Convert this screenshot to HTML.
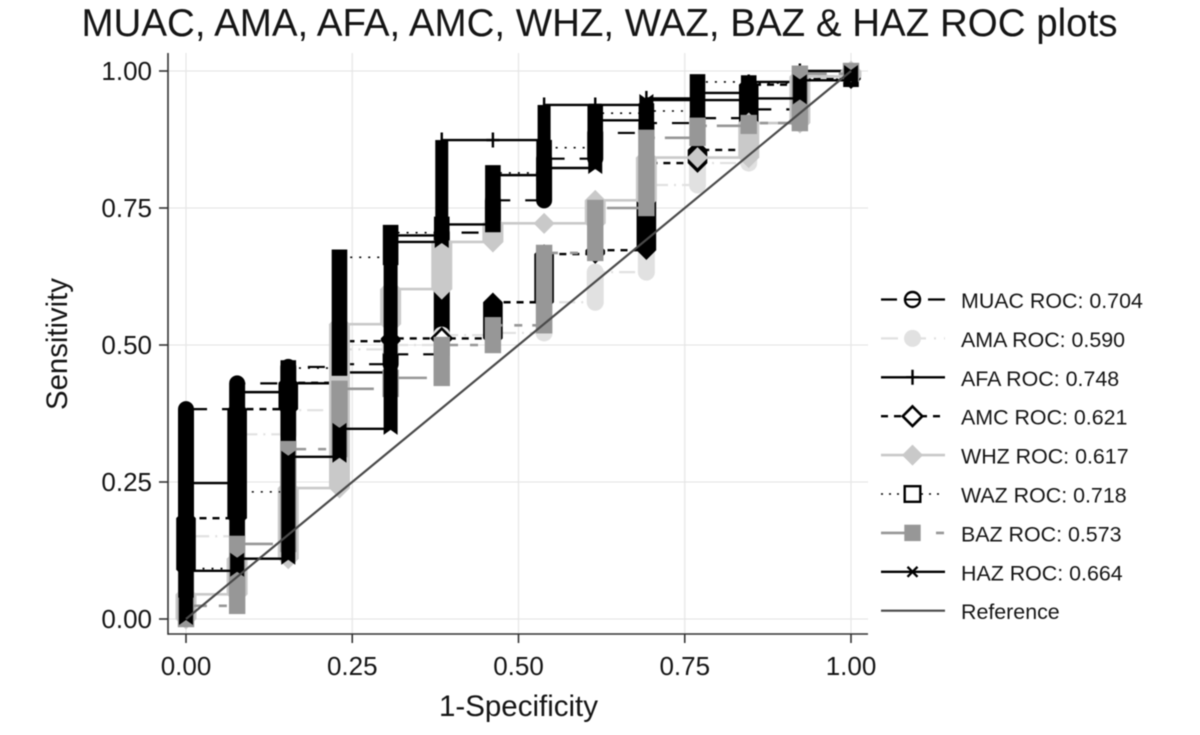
<!DOCTYPE html>
<html>
<head>
<meta charset="utf-8">
<title>ROC plots</title>
<style>
html,body{margin:0;padding:0;background:#fff;}
svg{display:block;filter:blur(0.55px);}
text{font-family:"Liberation Sans",Arial,sans-serif;fill:#151515;}
</style>
</head>
<body>
<svg id="chart" xmlns="http://www.w3.org/2000/svg" width="1200" height="735" viewBox="0 0 1200 735">
  <text x="599.5" y="36" font-size="38.5" text-anchor="middle">MUAC, AMA, AFA, AMC, WHZ, WAZ, BAZ &amp; HAZ ROC plots</text>
  <text transform="translate(67,344) rotate(-90)" font-size="29.3" text-anchor="middle">Sensitivity</text>
  <text x="518.5" y="716" font-size="29.5" text-anchor="middle">1-Specificity</text>
  <g id="grid"></g>
  <g id="marks"></g>
  <g id="axes"></g>
  <g id="legend"></g>
</svg>
<script>
// Data
const fprLevels = [0, 0.0769, 0.1538, 0.2308, 0.3077, 0.3846, 0.4615, 0.5385, 0.6154, 0.6923, 0.7692, 0.8462, 0.9231, 1];
const seriesNames = ['MUAC', 'AMA', 'AFA', 'AMC', 'WHZ', 'WAZ', 'BAZ', 'HAZ'];
const aucLabels = ['0.704', '0.590', '0.748', '0.621', '0.617', '0.718', '0.573', '0.664'];
const startSens = [0.04, 0, 0.04, 0.09, 0, 0.04, 0, 0];
const muacSens = [0.383, 0.43, 0.46, 0.465, 0.483, 0.705, 0.764, 0.84, 0.887, 0.905, 0.914, 0.93, 0.99, 1];
const amaSens = [0.151, 0.337, 0.381, 0.492, 0.50, 0.518, 0.522, 0.578, 0.633, 0.792, 0.832, 0.905, 0.985, 1];
const afaSens = [0.248, 0.414, 0.43, 0.45, 0.70, 0.874, 0.874, 0.938, 0.938, 0.95, 0.96, 0.98, 1, 1];
const amcSens = [0.184, 0.383, 0.431, 0.507, 0.512, 0.512, 0.578, 0.666, 0.673, 0.832, 0.856, 0.975, 0.985, 1];
const whzSens = [0.045, 0.11, 0.239, 0.538, 0.602, 0.688, 0.722, 0.722, 0.764, 0.842, 0.842, 0.905, 0.99, 1];
const wazSens = [0.092, 0.232, 0.458, 0.66, 0.705, 0.72, 0.814, 0.86, 0.923, 0.927, 0.98, 0.978, 0.985, 1];
const bazSens = [0.024, 0.137, 0.31, 0.42, 0.44, 0.50, 0.536, 0.668, 0.75, 0.878, 0.90, 0.905, 0.995, 1];
const hazSens = [0.088, 0.11, 0.296, 0.347, 0.688, 0.72, 0.81, 0.823, 0.91, 0.947, 0.947, 0.95, 0.983, 1];
const allSens = [muacSens, amaSens, afaSens, amcSens, whzSens, wazSens, bazSens, hazSens];
const tickValues = [0, 0.25, 0.5, 0.75, 1];
const tickLabels = ['0.00', '0.25', '0.50', '0.75', '1.00'];

// Styles
const looks = [
  {color:'#000', dash:'17 15', legendDash:'16 31 18', sw:2.2, kind:'circle', size:7.5, hollow:true},
  {color:'#e1e1e1', dash:'16 6 2 6', legendDash:'17 22 6 8 2 8 2 8', sw:2.2, kind:'circle', size:8.5},
  {color:'#000', dash:'', legendDash:'', sw:2.4, kind:'plus', size:6.5},
  {color:'#000', dash:'7 6', legendDash:'7 6', sw:2.4, kind:'diamond', size:9.8, hollow:true},
  {color:'#c9c9c9', dash:'', legendDash:'', sw:2.6, kind:'diamond', size:10.5},
  {color:'#000', dash:'2 7', legendDash:'2 6', sw:1.6, kind:'square', size:7.8, hollow:true},
  {color:'#979797', dash:'34 12 8 10', legendDash:'34 21 8 30', sw:2.6, kind:'square', size:8.2},
  {color:'#000', dash:'', legendDash:'', sw:2.4, kind:'cross', size:7}
];

const NS = 'http://www.w3.org/2000/svg';
const X0 = 186, X1 = 851, Y0 = 619, Y1 = 71;
const PLOT_L = 168, PLOT_R = 868, PLOT_T = 53, PLOT_B = 634;
const xScale = v => X0 + (X1 - X0) * v;
const yScale = v => Y0 + (Y1 - Y0) * v;

function mk(parent, tag, attrs, name, interact) {
  const el = document.createElementNS(NS, tag);
  for (const k in attrs) el.setAttribute(k, attrs[k]);
  
  
  parent.appendChild(el);
  return el;
}

// Grid and axes
const gridG = document.getElementById('grid');
const axesG = document.getElementById('axes');
tickValues.forEach((v, i) => {
  mk(gridG, 'line', {x1: xScale(v), x2: xScale(v), y1: PLOT_T, y2: PLOT_B, stroke: '#e6e6e6', 'stroke-width': 1.2}, 'x-gridline');
  mk(gridG, 'line', {x1: PLOT_L, x2: PLOT_R, y1: yScale(v), y2: yScale(v), stroke: '#e6e6e6', 'stroke-width': 1.2}, 'y-gridline');
  mk(axesG, 'line', {x1: xScale(v), x2: xScale(v), y1: PLOT_B, y2: PLOT_B + 9, stroke: '#333', 'stroke-width': 1.6}, 'x-tick');
  mk(axesG, 'line', {x1: PLOT_L - 9, x2: PLOT_L, y1: yScale(v), y2: yScale(v), stroke: '#333', 'stroke-width': 1.6}, 'y-tick');
  const xt = mk(axesG, 'text', {x: xScale(v), y: 675, 'font-size': 26, 'text-anchor': 'middle'}, 'x-tick-label');
  xt.textContent = tickLabels[i];
  const yt = mk(axesG, 'text', {x: 152, y: yScale(v) + 9, 'font-size': 26, 'text-anchor': 'end'}, 'y-tick-label');
  yt.textContent = tickLabels[i];
});
mk(axesG, 'line', {x1: PLOT_L, x2: PLOT_L, y1: PLOT_T, y2: PLOT_B + 0.8, stroke: '#333', 'stroke-width': 1.6}, 'y-axis-line');
mk(axesG, 'line', {x1: PLOT_L, x2: PLOT_R, y1: PLOT_B, y2: PLOT_B, stroke: '#333', 'stroke-width': 1.6}, 'x-axis-line');

// A single marker (used where a series does not rise, and in the legend)
function singleMarker(g, look, x, y, name) {
  const s = look.size, c = look.color;
  const hollowFill = look.hollow ? '#fff' : c;
  if (look.kind === 'circle') {
    mk(g, 'circle', {cx: x, cy: y, r: s, fill: hollowFill, stroke: c, 'stroke-width': look.hollow ? 2.4 : 0}, name);
    if (look.hollow) mk(g, 'line', {x1: x - s, x2: x + s, y1: y, y2: y, stroke: c, 'stroke-width': 2}, name + '-bar');
  } else if (look.kind === 'square') {
    mk(g, 'rect', {x: x - s, y: y - s, width: 2 * s, height: 2 * s, fill: hollowFill, stroke: c, 'stroke-width': look.hollow ? 2.4 : 0}, name);
  } else if (look.kind === 'diamond') {
    mk(g, 'polygon', {points: `${x},${y - s} ${x + s},${y} ${x},${y + s} ${x - s},${y}`, fill: hollowFill, stroke: c, 'stroke-width': look.hollow ? 2.6 : 0}, name);
  } else if (look.kind === 'plus') {
    mk(g, 'path', {d: `M${x - s} ${y}H${x + s}M${x} ${y - s - 1}V${y + s + 1}`, fill: 'none', stroke: c, 'stroke-width': 2.4}, name);
  } else {
    mk(g, 'path', {d: `M${x - s + 2} ${y - s + 2}L${x + s - 2} ${y + s - 2}M${x + s - 2} ${y - s + 2}L${x - s + 2} ${y + s - 2}`, fill: 'none', stroke: c, 'stroke-width': 2.4}, name);
  }
}

// The run of overlapping markers along a vertical step
function stepBand(g, look, x, yLo, yHi, name) {
  const s = look.size, c = look.color;
  if (look.kind === 'circle') {
    mk(g, 'line', {x1: x, x2: x, y1: yLo, y2: yHi, stroke: c, 'stroke-width': 2 * s + (look.hollow ? 1 : 0), 'stroke-linecap': 'round'}, name);
  } else if (look.kind === 'square') {
    mk(g, 'rect', {x: x - s, y: yHi - s, width: 2 * s, height: yLo - yHi + 2 * s, fill: c}, name);
  } else if (look.kind === 'diamond') {
    mk(g, 'polygon', {points: `${x},${yHi - s} ${x + s},${yHi} ${x + s},${yLo} ${x},${yLo + s} ${x - s},${yLo} ${x - s},${yHi}`, fill: c}, name);
  } else if (look.kind === 'plus') {
    mk(g, 'rect', {x: x - s, y: yHi, width: 2 * s, height: yLo - yHi, fill: c}, name);
    mk(g, 'line', {x1: x, x2: x, y1: yHi - s - 1, y2: yLo + s + 1, stroke: c, 'stroke-width': 2.4}, name + '-spike');
  } else {
    const t = s - 1;
    mk(g, 'polygon', {points: `${x - s},${yHi - t} ${x},${yHi - 1} ${x + s},${yHi - t} ${x + s},${yLo + t} ${x},${yLo + 1} ${x - s},${yLo + t}`, fill: c}, name);
  }
}

// Series
const marksG = document.getElementById('marks');
allSens.forEach((sens, si) => {
  const look = looks[si];
  const key = seriesNames[si].toLowerCase();
  const g = mk(marksG, 'g', {}, key + '-roc-series');
  let d = `M${xScale(fprLevels[0])} ${yScale(startSens[si])}`;
  sens.forEach((v, i) => {
    d += `V${yScale(v)}`;
    if (i < sens.length - 1) d += `H${xScale(fprLevels[i + 1])}`;
  });
  mk(g, 'path', {d: d, fill: 'none', stroke: look.color, 'stroke-width': look.sw, 'stroke-dasharray': look.dash}, key + '-line');
  sens.forEach((v, i) => {
    const lo = i === 0 ? startSens[si] : sens[i - 1];
    const x = xScale(fprLevels[i]);
    if (Math.abs(v - lo) < 0.0005) {
      singleMarker(g, look, x, yScale(v), key + '-point');
    } else {
      stepBand(g, look, x, yScale(lo), yScale(v), key + '-step');
    }
  });
});
mk(marksG, 'line', {x1: xScale(0), y1: yScale(0), x2: xScale(1), y2: yScale(1), stroke: '#4a4a4a', 'stroke-width': 2.2}, 'reference-line');

// Legend
const legendG = document.getElementById('legend');
const LEG_Y0 = 299.5, LEG_STEP = 38.9;
seriesNames.forEach((n, i) => {
  const y = LEG_Y0 + LEG_STEP * i;
  const look = looks[i];
  const key = n.toLowerCase();
  const g = mk(legendG, 'g', {}, key + '-legend-entry');
  mk(g, 'line', {x1: 881, x2: 945, y1: y, y2: y, stroke: look.color, 'stroke-width': look.sw, 'stroke-dasharray': look.legendDash}, key + '-legend-line');
  singleMarker(g, look, 912.5, y, key + '-legend-marker');
  const t = mk(g, 'text', {x: 961, y: y + 8.5, 'font-size': 21.4}, key + '-legend-label');
  t.textContent = n + ' ROC: ' + aucLabels[i];
});
const refY = LEG_Y0 + LEG_STEP * 8;
const refG = mk(legendG, 'g', {}, 'reference-legend-entry');
mk(refG, 'line', {x1: 881, x2: 945, y1: refY, y2: refY, stroke: '#4a4a4a', 'stroke-width': 2.2}, 'reference-legend-line');
const refT = mk(refG, 'text', {x: 961, y: refY + 8.5, 'font-size': 21.4}, 'reference-legend-label');
refT.textContent = 'Reference';
</script>
</body>
</html>
